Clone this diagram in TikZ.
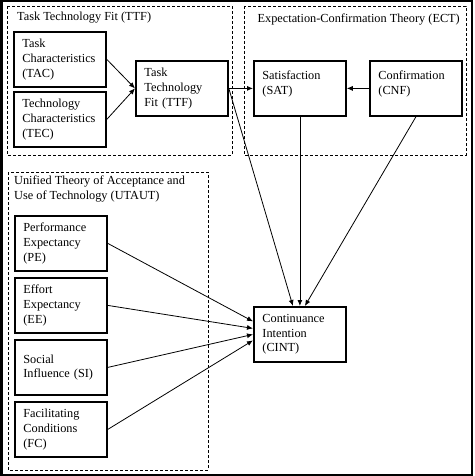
\documentclass[tikz,border=0pt]{standalone}
\usepackage{fontspec}
\setmainfont{Liberation Serif}
\usetikzlibrary{arrows.meta,positioning}

\tikzset{
  factor/.style={draw, line width=1.8pt, anchor=north west, minimum width=92pt, minimum height=55pt,
    text width=75pt, inner xsep=8.5pt, align=left, font=\fontsize{12.3}{14.7}\selectfont},
  group/.style={draw, dash pattern=on 3pt off 2pt, line width=0.8pt},
  grouplabel/.style={inner sep=0pt, align=left, font=\fontsize{12.3}{14.7}\selectfont},
  link/.style={-{Latex[length=6pt,width=5pt]}, line width=0.8pt}
}

\begin{document}
\begin{tikzpicture}[x = 1pt, y = -1pt]
\useasboundingbox (0,0) rectangle (474,476);
\draw[line width=2.5pt] (1.5,1) rectangle (472,474.8);
% Theory groups
\draw[group] (7,6) rectangle (232,155);
\draw[group] (244,6) rectangle (466,155);
\draw[group] (8,172) rectangle (208,470);
\node[grouplabel, anchor=north west] (ttfLabel) at (17,11.5) {Task Technology Fit (TTF)};
\node[grouplabel, anchor=north east] (ectLabel) at (460,13.5) {Expectation-Confirmation Theory (ECT)};
\node[grouplabel, anchor=north west] (utautLabel) at (14,175.5) {Unified Theory of Acceptance and\\Use of Technology (UTAUT)};
% Constructs
\node[factor] (TAC) at (13,31) {Task\\Characteristics\\(TAC)};
\node[factor] (TEC) at (13,91) {Technology\\Characteristics\\(TEC)};
\node[factor] (TTF) at (135,60) {Task\\Technology\\Fit (TTF)};
\node[factor, text depth=26pt] (SAT) at (253,60) {Satisfaction\\(SAT)};
\node[factor, text depth=26pt] (CNF) at (369,60) {Confirmation\\(CNF)};
\node[factor] (PE) at (14,215) {Performance\\Expectancy\\(PE)};
\node[factor] (EE) at (14,277) {Effort\\Expectancy\\(EE)};
\node[factor] (SI) at (14,339) {Social\\Influence (SI)};
\node[factor] (FC) at (14,401) {Facilitating\\Conditions\\(FC)};
\node[factor] (CINT) at (253,306) {Continuance\\Intention\\(CINT)};
% Paths
\draw[link] (TAC.east) -- (TTF.west);
\draw[link] (TEC.east) -- (TTF.west);
\draw[link] (TTF.east) -- (SAT.west);
\draw[link] (CNF.west) -- (SAT.east);
\draw[link] (TTF.east) -- ([xshift=-7pt]CINT.north);
\draw[link] (SAT.south) -- (CINT.north);
\draw[link] (CNF.south) -- ([xshift=5pt]CINT.north);
\draw[link] (PE.east) -- ([yshift=13pt]CINT.west);
\draw[link] (EE.east) -- ([yshift=6pt]CINT.west);
\draw[link] (SI.east) -- (CINT.west);
\draw[link] (FC.east) -- ([yshift=-6pt]CINT.west);
\end{tikzpicture}
\end{document}
